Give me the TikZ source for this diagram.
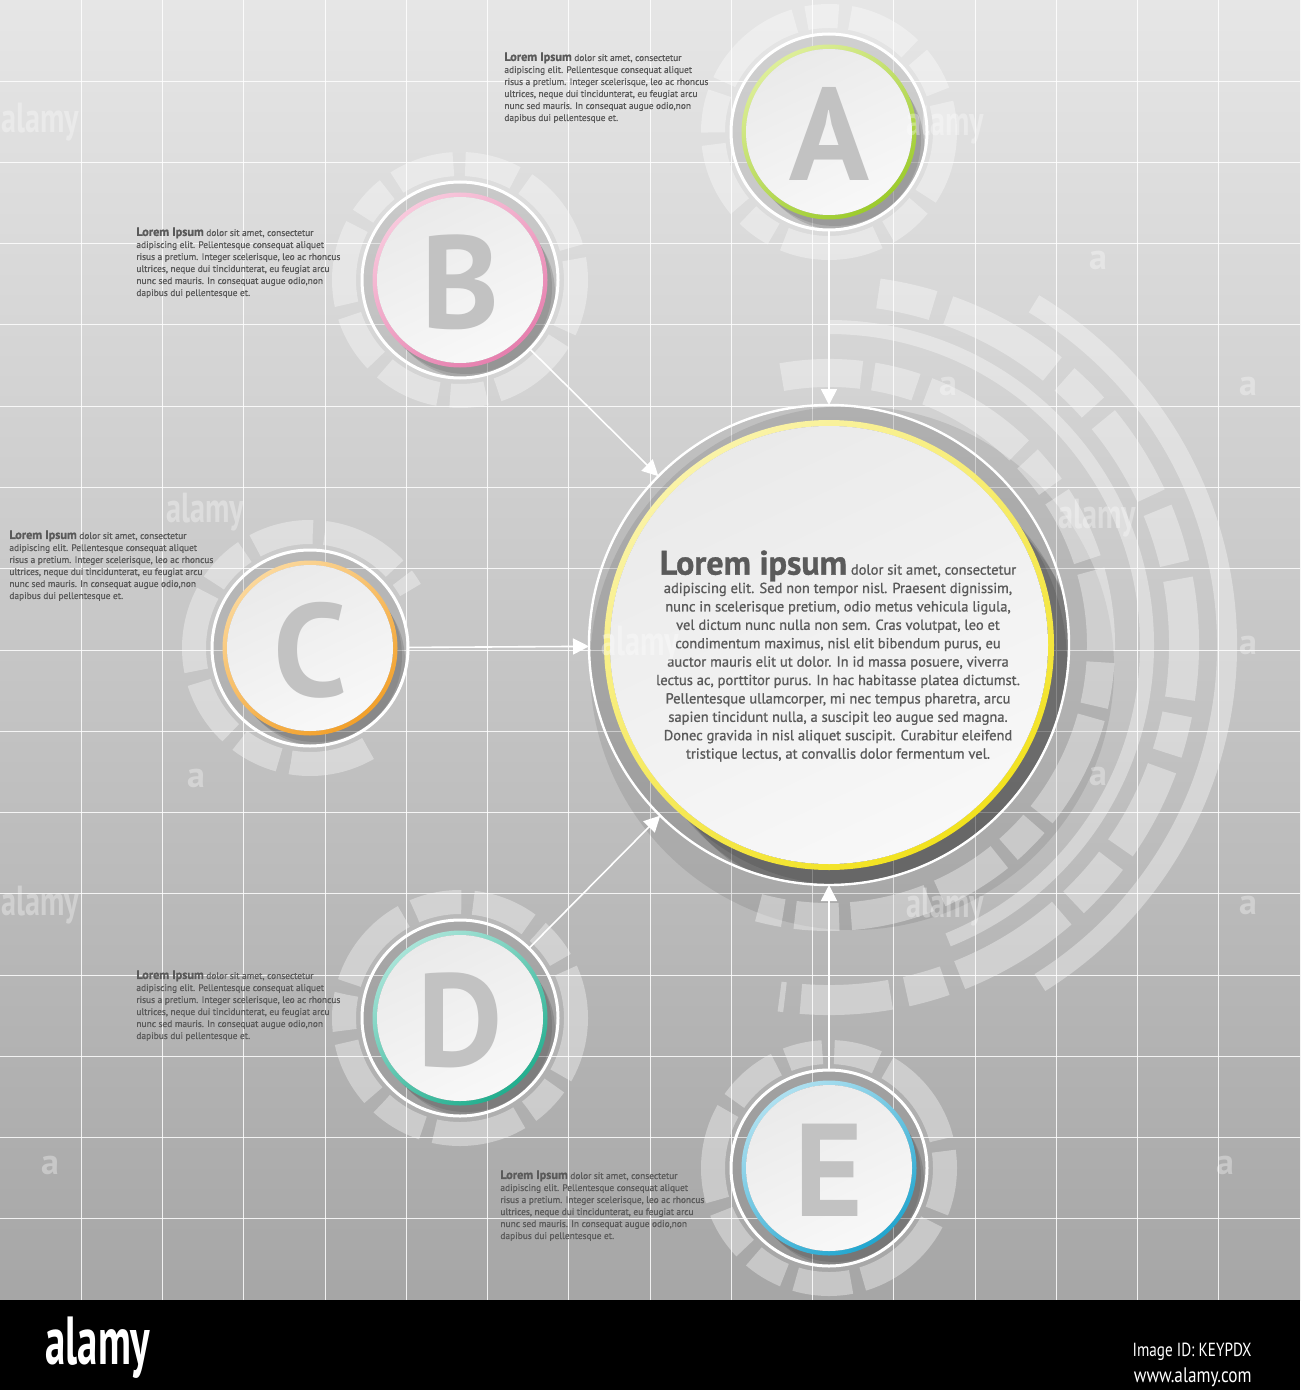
\documentclass[tikz,border=0pt]{standalone}
\usepackage{fontspec}
\setmainfont{PT Sans}
\newfontfamily\semib[FakeBold=1.0]{PT Sans}
\usetikzlibrary{arrows.meta,calc}
\definecolor{bgtop}{HTML}{E6E6E6}
\definecolor{bgbot}{HTML}{A6A6A6}
\definecolor{txt}{HTML}{5A5A5A}
\definecolor{lettercol}{HTML}{C2C2C2}
\definecolor{diskA}{HTML}{EAEAEA}
\definecolor{diskB}{HTML}{F8F8F8}
\definecolor{colAl}{HTML}{DDEE99}\definecolor{colAd}{HTML}{9CCB2C}
\definecolor{colBl}{HTML}{F8C8DC}\definecolor{colBd}{HTML}{E67FAE}
\definecolor{colCl}{HTML}{FBD79A}\definecolor{colCd}{HTML}{F2A02A}
\definecolor{colDl}{HTML}{A8E4D8}\definecolor{colDd}{HTML}{22AE8E}
\definecolor{colEl}{HTML}{AEE0F0}\definecolor{colEd}{HTML}{22A6CF}
\definecolor{colMl}{HTML}{FAF3A8}\definecolor{colMd}{HTML}{F2E21E}
\tikzset{
  wring/.style={circle, draw=white, line width=1.5pt, minimum size=98pt, inner sep=0pt, outer sep=0pt},
  mring/.style={circle, draw=white, line width=1.2pt, minimum size=240pt, inner sep=0pt, outer sep=0pt},
  conn/.style={draw=white, line width=0.8pt, -{Triangle[length=8pt,width=8pt]}},
  deco/.style={draw=white, draw opacity=0.36},
  letter/.style={font=\fontsize{66}{66}\selectfont\bfseries, text=lettercol},
  smalltxt/.style={anchor=north west, align=left, inner sep=0pt, text=txt, font=\semib\fontsize{4.7}{6}\selectfont},
  wm/.style={text=white, text opacity=0.33, font=\fontsize{21}{21}\selectfont\bfseries, inner sep=0pt},
  wma/.style={text=white, text opacity=0.33, font=\fontsize{18}{18}\selectfont\bfseries, inner sep=0pt},
}
\newcommand{\lorem}{{\fontsize{6.1}{6}\selectfont\bfseries Lorem Ipsum} dolor sit amet, consectetur\\
adipiscing elit. Pellentesque consequat aliquet\\
risus a pretium. Integer scelerisque, leo ac rhoncus\\
ultrices, neque dui tincidunterat, eu feugiat arcu\\
nunc sed mauris. In consequat augue odio,non\\
dapibus dui pellentesque et.}
\begin{document}
\begin{tikzpicture}[x=0.5pt,y=-0.5pt]
\useasboundingbox (0,0) rectangle (1300,1390);
% background
\shade[top color=bgtop, bottom color=bgbot] (0,0) rectangle (1300,1300);
% grid
\foreach \k in {1,...,15}{
  \draw[white, line width=0.5pt, opacity=0.85] (\k*81.25,0) -- (\k*81.25,1300);
  \draw[white, line width=0.5pt, opacity=0.85] (0,\k*81.25) -- (1300,\k*81.25);
}
% big decorative arcs around main circle
\fill[black, opacity=0.09] (852,668) circle (262);
\draw[deco, line width=14pt, dash pattern=on 40pt off 6pt on 22pt off 6pt on 55pt off 6pt on 18pt off 6pt on 35pt off 6pt]
  ([shift={(-100:272)}]829,645) arc (-100:105:272);
\draw[deco, line width=7pt] ([shift={(-90:318)}]829,645) arc (-90:68:318);
\draw[deco, line width=15pt, dash pattern=on 28pt off 8pt on 60pt off 8pt on 20pt off 8pt on 45pt off 8pt]
  ([shift={(-82:355)}]829,645) arc (-82:98:355);
\draw[deco, line width=10pt] ([shift={(-59:398)}]829,645) arc (-59:58:398);
% small circles decorations
\foreach \cx/\cy/\dp/\a/\b in {
   829/132/{on 34pt off 6pt on 20pt off 6pt on 48pt off 6pt on 16pt off 6pt}/0/360,
   460/280/{on 26pt off 6pt on 40pt off 6pt on 18pt off 6pt on 30pt off 6pt}/0/360,
   310/648/{on 40pt off 6pt on 22pt off 6pt on 30pt off 6pt}/60/330,
   460/1018/{on 30pt off 6pt on 18pt off 6pt on 44pt off 6pt on 24pt off 6pt}/0/360,
   829/1168/{on 22pt off 6pt on 46pt off 6pt on 28pt off 6pt on 18pt off 6pt}/0/360}{
  \draw[deco, line width=12pt, dash pattern/.expanded=\dp] ([shift={(\a:116)}]\cx,\cy) arc (\a:\b:116);
}
% main circle body
\fill[black, opacity=0.08] (829,645) circle (239);
\begin{scope}
  \clip (829,645) circle (239);
  \fill[black, opacity=0.10] (845,663) circle (222);
  \fill[black, opacity=0.13] (856,676) circle (222);
  \fill[black, opacity=0.14] (864,686) circle (220);
\end{scope}
\shade[even odd rule, top color=colMl, bottom color=colMd, shading angle=35] (829,645) circle (225) (829,645) circle (219);
\shade[top color=diskA, bottom color=diskB, shading angle=25] (829,645) circle (219);
% small circle bodies
\foreach \cx/\cy/\cl/\cd in {829/132/colAl/colAd, 460/280/colBl/colBd, 310/648/colCl/colCd, 460/1018/colDl/colDd, 829/1168/colEl/colEd}{
  \fill[black, opacity=0.09] (\cx,\cy) circle (97);
  \begin{scope}
    \clip (\cx,\cy) circle (97);
    \fill[black, opacity=0.10] (\cx+6,\cy+8) circle (86);
    \fill[black, opacity=0.13] (\cx+10,\cy+13) circle (85);
  \end{scope}
  \shade[even odd rule, top color=\cl, bottom color=\cd, shading angle=35] (\cx,\cy) circle (87.5) (\cx,\cy) circle (83);
  \shade[top color=diskA, bottom color=diskB, shading angle=25] (\cx,\cy) circle (83);
}
% nodes
\node[wring] (A) at (829,132) {};
\node[wring] (B) at (460,280) {};
\node[wring] (C) at (310,648) {};
\node[wring] (D) at (460,1018) {};
\node[wring] (E) at (829,1168) {};
\node[mring] (M) at (829,645) {};
\node[letter] (lA) at (829,134) {A};
\node[letter] (lB) at (460,282) {B};
\node[letter] (lC) at (310,650) {C};
\node[letter] (lD) at (460,1020) {D};
\node[letter] (lE) at (829,1170) {E};
% connectors
\draw[conn] (A) -- (M);
\draw[conn] (B) -- (M);
\draw[conn] (C) -- (M);
\draw[conn] (D) -- (M);
\draw[conn] (E) -- (M);
% texts
\node[smalltxt] (tA) at (504,52) {\lorem};
\node[smalltxt] (tB) at (136,227) {\lorem};
\node[smalltxt] (tC) at (9,530) {\lorem};
\node[smalltxt] (tD) at (136,970) {\lorem};
\node[smalltxt] (tE) at (500,1170) {\lorem};
\node[align=center, inner sep=0pt, text=txt, font=\semib\fontsize{7.25}{9.2}\selectfont] (tM) at (838,656) {%
{\fontsize{17}{17}\selectfont\bfseries Lorem ipsum} dolor sit amet, consectetur\\
adipiscing elit. Sed non tempor nisl. Praesent dignissim,\\
nunc in scelerisque pretium, odio metus vehicula ligula,\\
vel dictum nunc nulla non sem. Cras volutpat, leo et\\
condimentum maximus, nisl elit bibendum purus, eu\\
auctor mauris elit ut dolor. In id massa posuere, viverra\\
lectus ac, porttitor purus. In hac habitasse platea dictumst.\\
Pellentesque ullamcorper, mi nec tempus pharetra, arcu\\
sapien tincidunt nulla, a suscipit leo augue sed magna.\\
Donec gravida in nisl aliquet suscipit. Curabitur eleifend\\
tristique lectus, at convallis dolor fermentum vel.};
% faint watermarks
\node[wm] (w1) at (40,122) {\scalebox{0.72}[1]{alamy}};
\node[wm] (w2) at (945,125) {\scalebox{0.72}[1]{alamy}};
\node[wm] (w3) at (205,512) {\scalebox{0.72}[1]{alamy}};
\node[wm] (w4) at (1097,518) {\scalebox{0.72}[1]{alamy}};
\node[wm] (w5) at (640,645) {\scalebox{0.72}[1]{alamy}};
\node[wm] (w6) at (40,905) {\scalebox{0.72}[1]{alamy}};
\node[wm] (w7) at (945,907) {\scalebox{0.72}[1]{alamy}};
\node[wma] (a4) at (196,778) {a};
\node[wma] (a5) at (50,1165) {a};
\node[wma] (a6) at (1225,1165) {a};
\node[wma] (a7) at (1098,260) {a};
\node[wma] (a8) at (948,386) {a};
\node[wma] (a9) at (1248,386) {a};
\node[wma] (a10) at (1248,645) {a};
\node[wma] (a11) at (1098,776) {a};
\node[wma] (a12) at (1248,905) {a};
% bottom bar
\fill[black] (0,1300) rectangle (1300,1390);
\node[text=white, inner sep=0pt, font=\fontsize{34}{34}\selectfont\bfseries] (logo) at (98,1348) {\scalebox{0.6}[1]{alamy}};
\node[text=white, anchor=east, inner sep=0pt, font=\fontsize{9.5}{9.5}\selectfont] (imgid) at (1252,1352) {\scalebox{0.8}[1]{Image ID: KEYPDX}};
\node[text=white, anchor=east, inner sep=0pt, font=\fontsize{10.5}{10.5}\selectfont] (url) at (1252,1377) {\scalebox{0.82}[1]{www.alamy.com}};
\end{tikzpicture}
\end{document}
